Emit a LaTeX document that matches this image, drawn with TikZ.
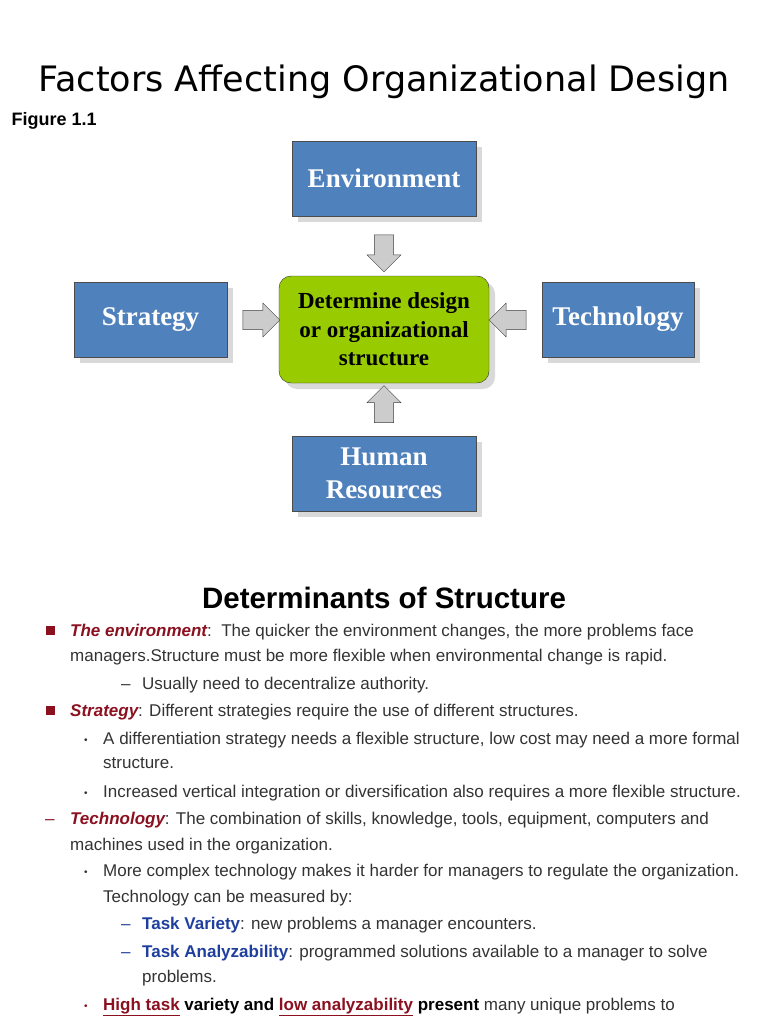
\documentclass[tikz,border=0pt]{standalone}
\usepackage{fontspec}
\setmainfont{Liberation Sans}
\newfontfamily\titlefont{DejaVu Sans}
\newfontfamily\boxfont{Liberation Serif}
\usetikzlibrary{shapes.arrows}
\definecolor{boxblue}{HTML}{4F81BD}
\definecolor{boxgreen}{HTML}{99CC00}
\definecolor{darkred}{HTML}{8B1020}
\definecolor{tblue}{HTML}{1F3F9F}
\definecolor{txt}{HTML}{333333}
\tikzset{
  bluebox/.style={draw=black!70,fill=boxblue,text=white,font=\boxfont\bfseries\fontsize{27}{33}\selectfont,minimum width=#1,minimum height=75pt,align=center,inner sep=0pt},
  shad/.style={fill=black!15},
  barrow/.style={single arrow,draw=black!75,fill=black!20,minimum height=37pt,minimum width=34pt,single arrow head extend=7pt,inner sep=9pt},
  ln/.style={anchor=base west,inner sep=0pt,text=txt,font=\fontsize{17}{19}\selectfont},
  sq/.style={fill=darkred}
}
\begin{document}
\begin{tikzpicture}[x=1pt,y=-1pt]
\useasboundingbox[fill=white] (0,0) rectangle (768,1024);
\node[font=\titlefont\fontsize{35}{38}\selectfont,text=black] (title) at (384,82) {Factors Affecting Organizational Design};
\node[anchor=west,font=\bfseries\fontsize{18}{19}\selectfont] (fig) at (8,121) {Figure 1.1};
% shadows
\fill[shad] (298,147) rectangle (482,222);
\fill[shad] (80,288) rectangle (233,363);
\fill[shad] (548,288) rectangle (700,363);
\fill[shad] (298,442) rectangle (482,517);
\fill[shad,rounded corners=12pt] (285,282) rectangle (495,389);
\node[bluebox=184pt] (env) at (384,178.5) {Environment};
\node[bluebox=153pt] (str) at (150.5,319.5) {Strategy};
\node[bluebox=152pt] (tec) at (618,319.5) {Technology};
\node[bluebox=184pt] (hr) at (384,473.5) {Human\\Resources};
\node[draw=black!80,fill=boxgreen,rounded corners=12pt,minimum width=210pt,minimum height=107pt,align=center,font=\boxfont\bfseries\fontsize{23}{28.5}\selectfont,inner sep=0pt] (ctr) at (384,329.5) {Determine design\\or organizational\\structure};
\node[barrow,shape border rotate=270] (a1) at (384,248.5) {};
\node[barrow] (a2) at (256.5,320) {};
\node[barrow,shape border rotate=180] (a3) at (512.5,320) {};
\node[barrow,shape border rotate=90] (a4) at (384,409) {};
\node[font=\bfseries\fontsize{29.5}{32}\selectfont] (det) at (384,598) {Determinants of Structure};
% bullets
\fill[sq] (46,626) rectangle (55,635);
\fill[sq] (46,706) rectangle (55,715);
\node[ln] (l1) at (70,636) {\textcolor{darkred}{\bfseries\itshape The environment}:\ \ The quicker the environment changes, the more problems face};
\node[ln] (l2) at (70,661) {managers.Structure must be more flexible when environmental change is rapid.};
\node[ln] (d1) at (121,689) {–};
\node[ln] (l3) at (142,689) {Usually need to decentralize authority.};
\node[ln] (l4) at (70,716) {\textcolor{darkred}{\bfseries\itshape Strategy}: Different strategies require the use of different structures.};
\node[ln] (b1) at (84,743) {\fontsize{10}{10}\selectfont•};
\node[ln] (l5) at (103,744) {A differentiation strategy needs a flexible structure, low cost may need a more formal};
\node[ln] (l6) at (103,768) {structure.};
\node[ln] (b2) at (84,796) {\fontsize{10}{10}\selectfont•};
\node[ln] (l7) at (103,797) {Increased vertical integration or diversification also requires a more flexible structure.};
\node[ln,text=darkred] (d2) at (45,824) {–};
\node[ln] (l8) at (70,824) {\textcolor{darkred}{\bfseries\itshape Technology}: The combination of skills, knowledge, tools, equipment, computers and};
\node[ln] (l9) at (70,850) {machines used in the organization.};
\node[ln] (b3) at (84,875) {\fontsize{10}{10}\selectfont•};
\node[ln] (l10) at (103,876) {More complex technology makes it harder for managers to regulate the organization.};
\node[ln] (l11) at (103,902) {Technology can be measured by:};
\node[ln,text=tblue] (d3) at (121,929) {–};
\node[ln] (l12) at (142,929) {\textcolor{tblue}{\bfseries Task Variety}: new problems a manager encounters.};
\node[ln,text=tblue] (d4) at (121,957) {–};
\node[ln] (l13) at (142,957) {\textcolor{tblue}{\bfseries Task Analyzability}: programmed solutions available to a manager to solve};
\node[ln] (l14) at (142,982) {problems.};
\node[ln,text=darkred] (b4) at (84,1009) {\fontsize{10}{10}\selectfont•};
\node[ln] (l15) at (103,1010) {\textcolor{darkred}{\bfseries\underline{High task}}\textcolor{black}{\bfseries\ variety and }\textcolor{darkred}{\bfseries\underline{low analyzability}}\textcolor{black}{\bfseries\ present} many unique problems to};
\end{tikzpicture}
\end{document}
